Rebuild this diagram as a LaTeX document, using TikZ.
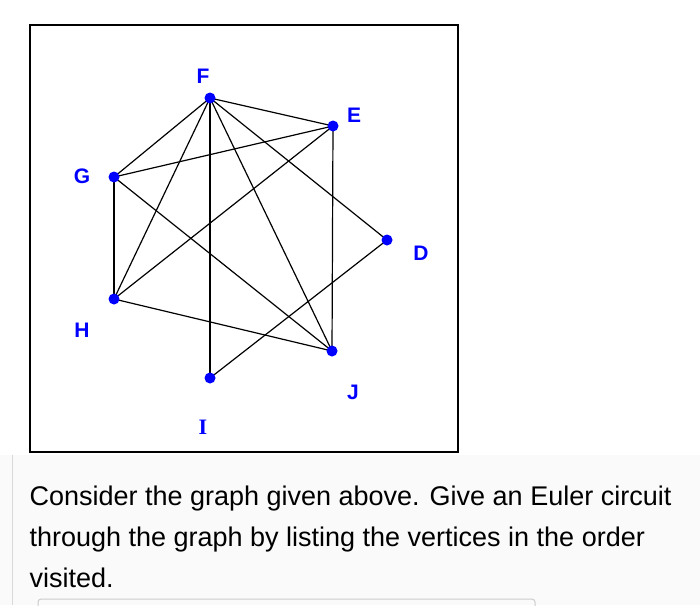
\documentclass[tikz,border=0pt]{standalone}
\usepackage{fontspec}
\setmainfont{Liberation Sans}
\newfontfamily\serifI{Liberation Serif}
\begin{document}
\begin{tikzpicture}[x=1pt,y=-1pt,
 v/.style={circle,fill=blue,inner sep=0pt,minimum size=10pt},
 lab/.style={text=blue,font=\fontsize{21}{21}\selectfont\bfseries},
 e/.style={black,line width=1.2pt}]
\fill[white] (0,0) rectangle (700,605);
\useasboundingbox (0,0) rectangle (700,605);
\fill[gray!4] (0,455) rectangle (700,605);
\draw[gray!30,line width=1pt] (12,455) -- (12,605);
\draw[gray!40,line width=1pt,rounded corners=3pt] (38,608) -- (38,599) -- (535,599) -- (535,608);
\draw[black,line width=1.5pt] (30,25) rectangle (458,452);
\node[v] (F) at (210,98) {};
\node[v] (E) at (333,126) {};
\node[v] (G) at (114,177) {};
\node[v] (D) at (387,240) {};
\node[v] (H) at (114,299) {};
\node[v] (J) at (332,351) {};
\node[v] (I) at (210,378) {};
\node[lab] (lF) at (203,76) {F};
\node[lab] (lE) at (354,115) {E};
\node[lab] (lG) at (82,176) {G};
\node[lab] (lD) at (421,253) {D};
\node[lab] (lH) at (82,330) {H};
\node[lab] (lJ) at (353,392) {J};
\node[lab,font=\fontsize{22}{22}\selectfont\bfseries\serifI] (lI) at (203,427) {I};
\foreach \a/\b in {F/E,F/G,F/H,F/I,F/J,F/D,G/E,G/H,G/J,H/E,H/J,E/J,I/D}
  \draw[e] (\a.center) -- (\b.center);
\foreach \n in {F,E,G,D,H,J,I} \fill[blue] (\n) circle (5.5pt);
\node[anchor=west,font=\fontsize{27}{27}\selectfont] (t1) at (26,499) {Consider the graph given above. Give an Euler circuit};
\node[anchor=west,font=\fontsize{27}{27}\selectfont] (t2) at (26,540) {through the graph by listing the vertices in the order};
\node[anchor=west,font=\fontsize{27}{27}\selectfont] (t3) at (26,578) {visited.};
\end{tikzpicture}
\end{document}
